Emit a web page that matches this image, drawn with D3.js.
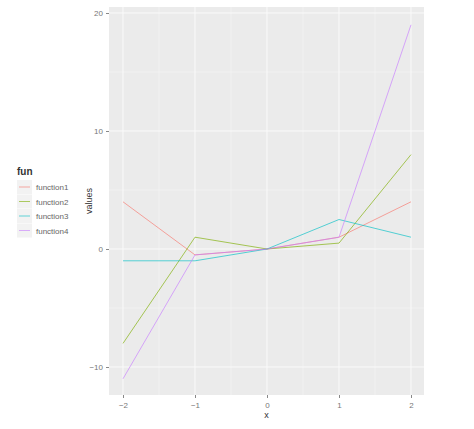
<!DOCTYPE html>
<html><head><meta charset="utf-8">
<script src="https://cdn.jsdelivr.net/npm/d3@7"></script>
<style>body{margin:0;background:#fff}text{font-family:"Liberation Sans",Arial,sans-serif}</style>
</head><body>
<svg id="c" width="474" height="429"></svg>
<script>
var xs = [-2, -1, 0, 1, 2];
var names = ['function1', 'function2', 'function3', 'function4'];
var f1 = [4, -0.5, 0, 1, 4];
var f2 = [-8, 1, 0, 0.5, 8];
var f3 = [-1, -1, 0, 2.5, 1];
var f4 = [-11, -0.5, 0, 1, 19];
var colors = ['#F8766D', '#7CAE00', '#00BFC4', '#C77CFF'];
var series = [f1, f2, f3, f4];

var panel = {left: 109, right: 424, top: 7, bottom: 395};
var x = d3.scaleLinear().domain([-2, 2]).range([123, 411]);
var y = d3.scaleLinear().domain([-10, 20]).range([367, 13]);
var svg = d3.select('#c');

svg.append('rect').attr('x', panel.left).attr('y', panel.top)
	.attr('width', panel.right - panel.left).attr('height', panel.bottom - panel.top)
	.attr('fill', '#EBEBEB');

// minor grid
[-1.5, -0.5, 0.5, 1.5].forEach(function (v) {
	svg.append('line').attr('x1', x(v)).attr('x2', x(v)).attr('y1', panel.top).attr('y2', panel.bottom)
		.attr('stroke', '#f6f6f6').attr('stroke-width', 0.5);
});
[-5, 5, 15].forEach(function (v) {
	svg.append('line').attr('y1', y(v)).attr('y2', y(v)).attr('x1', panel.left).attr('x2', panel.right)
		.attr('stroke', '#f6f6f6').attr('stroke-width', 0.5);
});
// major grid
xs.forEach(function (v) {
	svg.append('line').attr('x1', x(v)).attr('x2', x(v)).attr('y1', panel.top).attr('y2', panel.bottom)
		.attr('stroke', '#fafafa').attr('stroke-width', 1);
});
[-10, 0, 10, 20].forEach(function (v) {
	svg.append('line').attr('y1', y(v)).attr('y2', y(v)).attr('x1', panel.left).attr('x2', panel.right)
		.attr('stroke', '#fafafa').attr('stroke-width', 1);
});

var line = d3.line().x(function (d, i) { return x(xs[i]); }).y(function (d) { return y(d); });
series.forEach(function (s, k) {
	svg.append('path').attr('d', line(s)).attr('fill', 'none')
		.attr('stroke', colors[k]).attr('stroke-width', 1).attr('opacity', 0.65);
});

// axes
var xa = svg.append('g').attr('transform', 'translate(0,' + panel.bottom + ')')
	.call(d3.axisBottom(x).tickValues(xs).tickFormat(d3.format('d')).tickSize(3).tickPadding(4));
var ya = svg.append('g').attr('transform', 'translate(' + panel.left + ',0)')
	.call(d3.axisLeft(y).tickValues([-10, 0, 10, 20]).tickFormat(d3.format('d')).tickSize(3).tickPadding(3));
[xa, ya].forEach(function (a) {
	a.select('.domain').remove();
	a.selectAll('line').attr('stroke', '#888');
	a.selectAll('text').attr('fill', '#777').style('font-size', '8px');
});

svg.append('text').attr('x', (panel.left + panel.right) / 2).attr('y', 418)
	.attr('text-anchor', 'middle').style('font-size', '9px').attr('fill', '#333').text('x');
svg.append('text').attr('transform', 'translate(92,' + (panel.top + panel.bottom) / 2 + ') rotate(-90)')
	.attr('text-anchor', 'middle').style('font-size', '9px').attr('fill', '#333').text('values');

// legend
var lg = svg.append('g').attr('transform', 'translate(17,0)');
lg.append('text').attr('x', 0).attr('y', 175).style('font-size', '10px').style('font-weight', 'bold')
	.attr('fill', '#333').text('fun');
names.forEach(function (n, k) {
	var cy = 187 + k * 14.5;
	lg.append('rect').attr('x', 0).attr('y', cy - 7).attr('width', 15).attr('height', 14).attr('fill', '#F2F2F2');
	lg.append('line').attr('x1', 2).attr('x2', 13).attr('y1', cy).attr('y2', cy)
		.attr('stroke', colors[k]).attr('opacity', 0.6);
	lg.append('text').attr('x', 19).attr('y', cy + 3).style('font-size', '8px').attr('fill', '#666').text(n);
});
</script>
</body></html>
